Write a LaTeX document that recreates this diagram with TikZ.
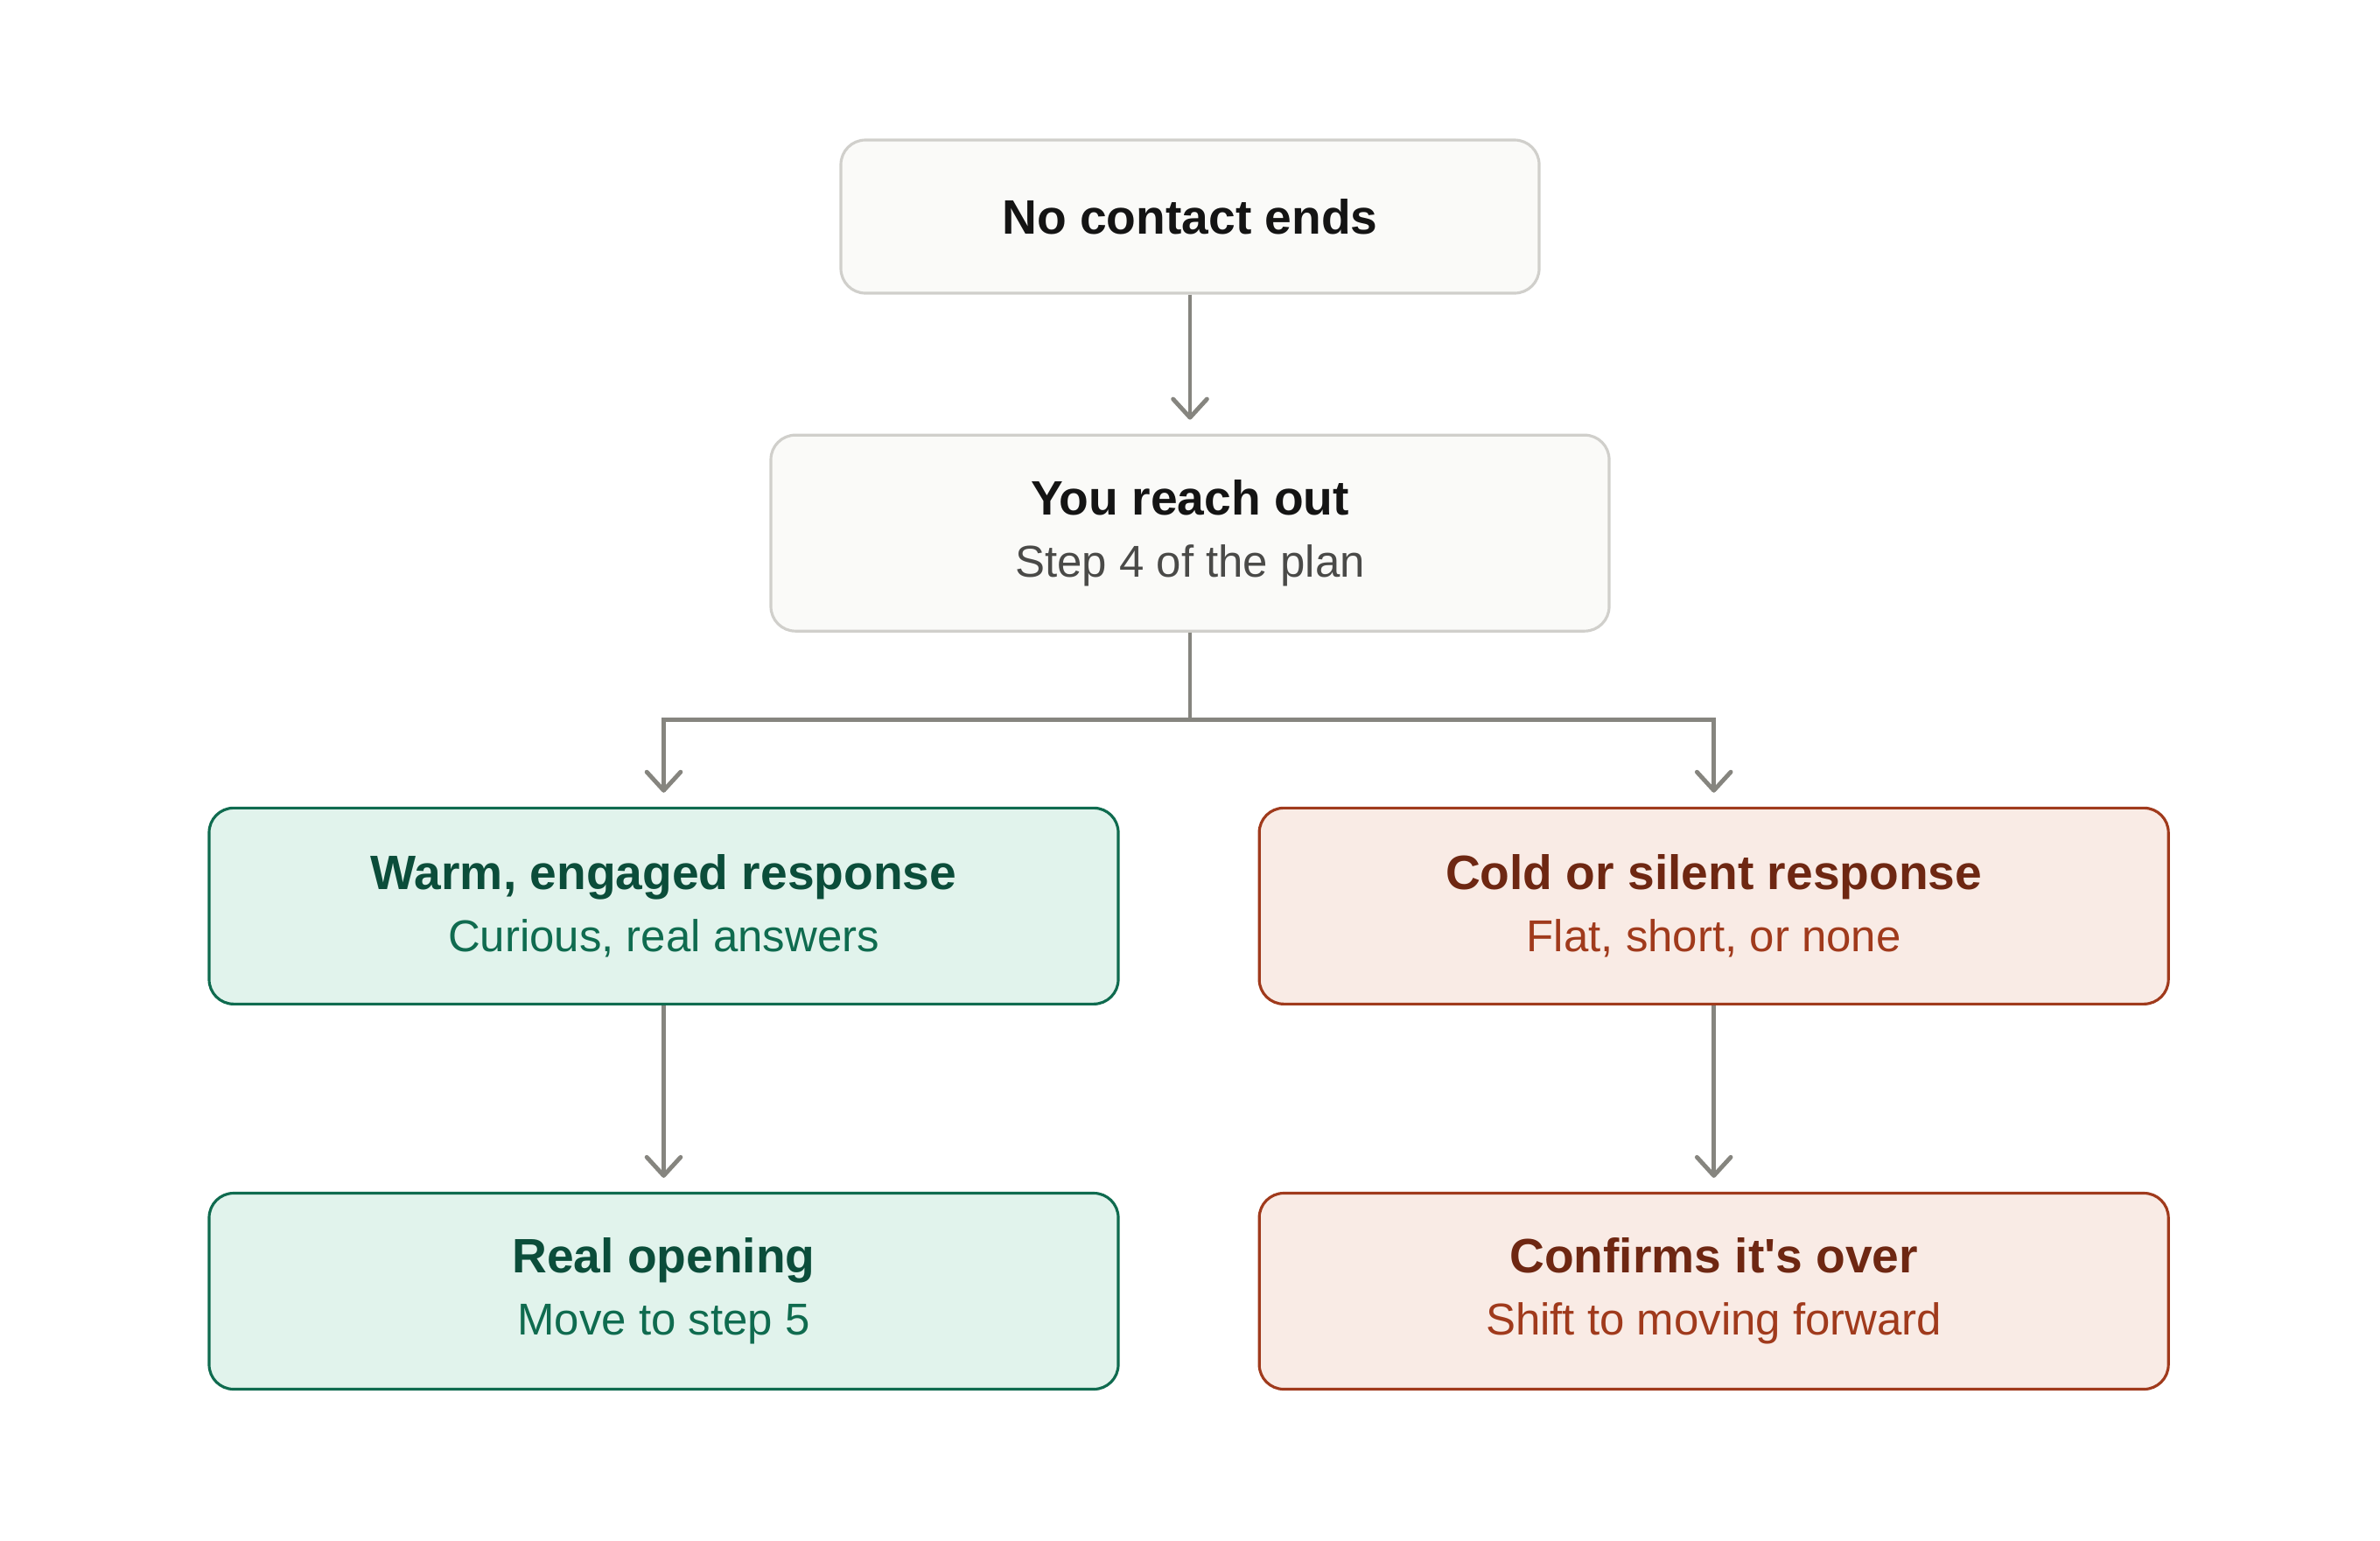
\documentclass[tikz,border=0pt]{standalone}
\usepackage{fontspec}
\setmainfont{Liberation Sans}
\usetikzlibrary{arrows.meta, positioning}

% Colours
\definecolor{plainfill}{HTML}{FAFAF8}
\definecolor{plainedge}{HTML}{D0CFCB}
\definecolor{plaintitle}{HTML}{141414}
\definecolor{plainsub}{HTML}{4A4A48}
\definecolor{greenfill}{HTML}{E1F3EC}
\definecolor{greenedge}{HTML}{0F6B4F}
\definecolor{greentitle}{HTML}{0B4D3A}
\definecolor{greensub}{HTML}{0F6B4F}
\definecolor{redfill}{HTML}{F9EBE5}
\definecolor{rededge}{HTML}{A03A1C}
\definecolor{redtitle}{HTML}{6E2712}
\definecolor{redsub}{HTML}{A03A1C}
\definecolor{arrowgray}{HTML}{86857F}

\newcommand{\boxtitle}[1]{{\fontsize{15.7}{20.2}\selectfont\bfseries #1}}
\newcommand{\boxsub}[1]{{\fontsize{14.5}{20.2}\selectfont #1}}

\begin{document}
\begin{tikzpicture}[
    >={Straight Barb[length=6pt,width=11pt,line cap=round,line join=round]},
    line width=1.4pt,
    node distance=1.6cm,
    every node/.style={font=\fontsize{14.5}{20.2}\selectfont},  % base size for box texts
    flow/.style={->, draw=arrowgray, line width=1.4pt, shorten >=0.16cm}
]

% Styles for the boxes
\tikzset{
    boxstyle/.style={
        rectangle,
        rounded corners=0.28cm,
        line width=0.9pt,
        align=center,
        inner sep=0pt,
        minimum height=2.24cm,
    },
    plainbox/.style={boxstyle, draw=plainedge, fill=plainfill, text=plaintitle},
    greenbox/.style={boxstyle, draw=greenedge, fill=greenfill, minimum width=10.39cm},
    redbox/.style={boxstyle, draw=rededge, fill=redfill, minimum width=10.39cm}
}

\useasboundingbox (0,0) rectangle (27.2,-17.6);

% Start of the flow
\node[plainbox, minimum width=7.98cm, minimum height=1.75cm] (ends) at (13.60,-2.475) {\boxtitle{No contact ends}};

% Reaching out
\node[plainbox, minimum width=9.58cm, below=1.59cm of ends] (reach) {\boxtitle{You reach out}\\ \boxsub{\color{plainsub}Step 4 of the plan}};

% Two kinds of response
\node[greenbox, below=1.99cm of reach, xshift=-6.015cm] (warm) {\boxtitle{\color{greentitle}Warm, engaged response}\\ \boxsub{\color{greensub}Curious, real answers}};
\node[redbox, right=1.58cm of warm] (cold) {\boxtitle{\color{redtitle}Cold or silent response}\\ \boxsub{\color{redsub}Flat, short, or none}};

% Outcomes
\node[greenbox, below=2.13cm of warm] (opening) {\boxtitle{\color{greentitle}Real opening}\\ \boxsub{\color{greensub}Move to step 5}};
\node[redbox, below=2.13cm of cold] (over) {\boxtitle{\color{redtitle}Confirms it\textquotesingle s over}\\ \boxsub{\color{redsub}Shift to moving forward}};

% Connectors
\draw[flow] (ends.south) -- (reach.north);
\draw[flow] (reach.south) -- ++(0,-1.0) -| (warm.north);
\draw[flow] (reach.south) -- ++(0,-1.0) -| (cold.north);
\draw[flow] (warm.south) -- (opening.north);
\draw[flow] (cold.south) -- (over.north);

\end{tikzpicture}
\end{document}
